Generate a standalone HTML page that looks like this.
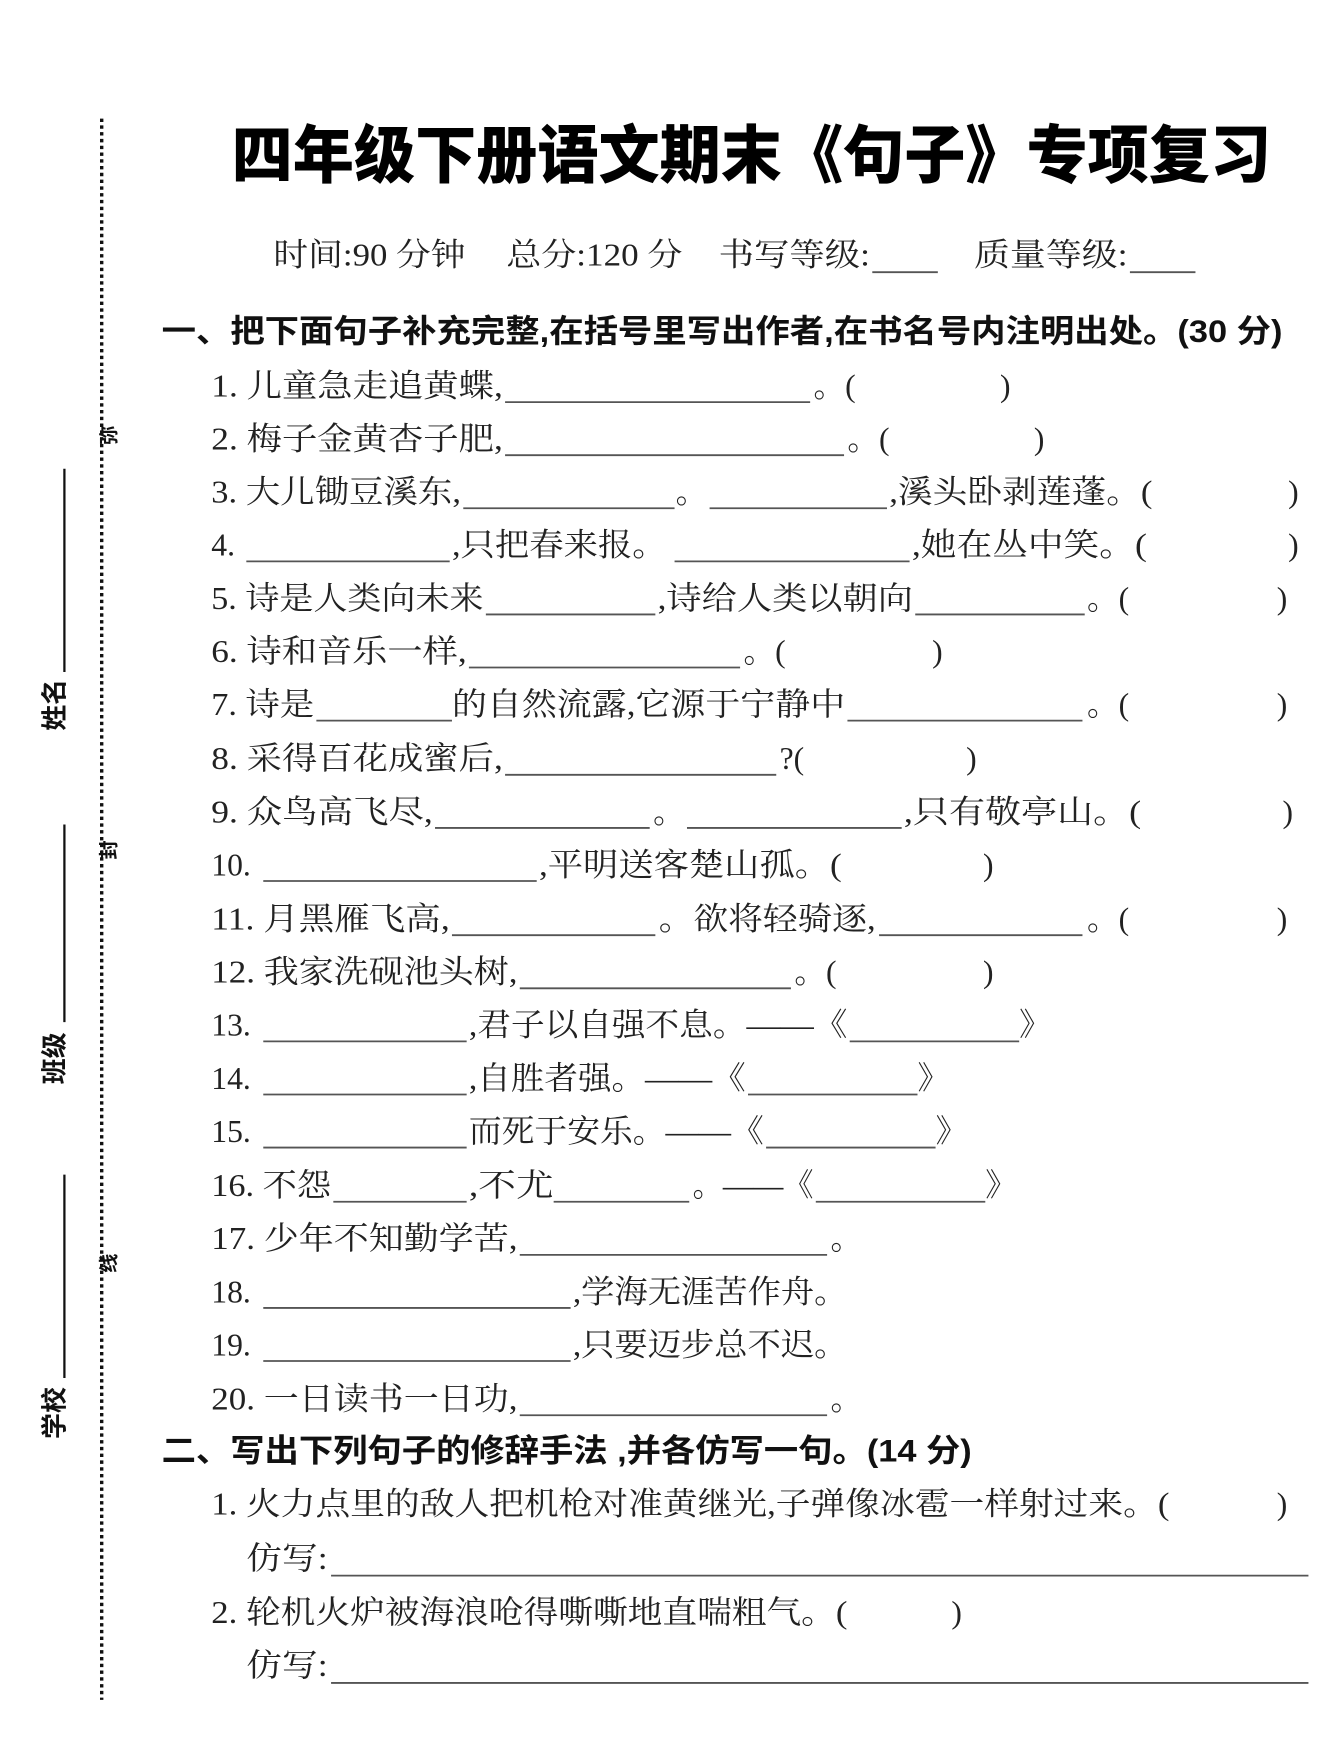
<!DOCTYPE html>
<html><head><meta charset="utf-8"><style>
html,body{margin:0;padding:0;background:#fff;}
svg{display:block}
.t{font-family:"Liberation Serif","Noto Serif CJK SC",serif;font-size:28px;fill:#222}
.h{font-family:"Liberation Sans","Noto Sans CJK SC",sans-serif;font-size:28px;font-weight:bold;fill:#111}
.ti{font-family:"Liberation Sans","Noto Sans CJK SC",sans-serif;font-size:56px;font-weight:900;fill:#000}
.m{font-family:"Liberation Sans","Noto Sans CJK SC",sans-serif;font-weight:bold;fill:#111}
line.u{stroke:#555;stroke-width:1.6}
</style></head><body>
<svg width="1322" height="1762" viewBox="0 0 1170 1560" preserveAspectRatio="none" xmlns="http://www.w3.org/2000/svg">
<line x1="90" y1="105" x2="90" y2="1505" stroke="#111" stroke-width="3" stroke-dasharray="3,3"/>
<line x1="57" y1="415" x2="57" y2="595" stroke="#111" stroke-width="2"/>
<line x1="57" y1="730" x2="57" y2="905" stroke="#111" stroke-width="2"/>
<line x1="57" y1="1040" x2="57" y2="1220" stroke="#111" stroke-width="2"/>
<text class="m" font-size="23" transform="translate(56,647) rotate(-90)">姓名</text>
<text class="m" font-size="23" transform="translate(56,960) rotate(-90)">班级</text>
<text class="m" font-size="23" transform="translate(56,1274) rotate(-90)">学校</text>
<text class="m" font-size="17" transform="translate(102,394) rotate(-90)">弥</text>
<text class="m" font-size="17" transform="translate(102,761) rotate(-90)">封</text>
<text class="m" font-size="17" transform="translate(102,1127) rotate(-90)">线</text>

<text class="ti" x="205" y="157" textLength="920" lengthAdjust="spacingAndGlyphs">四年级下册语文期末《句子》专项复习</text>

<text class="t" x="242" y="235" textLength="170" lengthAdjust="spacingAndGlyphs">时间:90 分钟</text>
<text class="t" x="448" y="235" textLength="156" lengthAdjust="spacingAndGlyphs">总分:120 分</text>
<text class="t" x="636" y="235" textLength="134" lengthAdjust="spacingAndGlyphs">书写等级:</text>
<line class="u" x1="772" y1="241" x2="830" y2="241"/>
<text class="t" x="862" y="235" textLength="136" lengthAdjust="spacingAndGlyphs">质量等级:</text>
<line class="u" x1="1000" y1="241" x2="1058" y2="241"/>

<text class="h" x="143" y="303" textLength="992" lengthAdjust="spacingAndGlyphs">一、把下面句子补充完整,在括号里写出作者,在书名号内注明出处。(30 分)</text>

<text class="t" x="187" y="351" textLength="258" lengthAdjust="spacingAndGlyphs">1. 儿童急走追黄蝶,</text>
<line class="u" x1="447" y1="356" x2="717" y2="356"/>
<text class="t" x="720" y="351">。(</text><text class="t" x="885" y="351">)</text>
<text class="t" x="187" y="398" textLength="258" lengthAdjust="spacingAndGlyphs">2. 梅子金黄杏子肥,</text>
<line class="u" x1="447" y1="403" x2="747" y2="403"/>
<text class="t" x="750" y="398">。(</text><text class="t" x="915" y="398">)</text>
<text class="t" x="187" y="445" textLength="221" lengthAdjust="spacingAndGlyphs">3. 大儿锄豆溪东,</text>
<line class="u" x1="410" y1="450" x2="597" y2="450"/>
<text class="t" x="598" y="445">。</text>
<line class="u" x1="628" y1="450" x2="785" y2="450"/>
<text class="t" x="787" y="445" textLength="233" lengthAdjust="spacingAndGlyphs">,溪头卧剥莲蓬。(</text><text class="t" x="1140" y="445">)</text>
<text class="t" x="187" y="492">4.</text>
<line class="u" x1="218" y1="497" x2="398" y2="497"/>
<text class="t" x="400" y="492" textLength="190" lengthAdjust="spacingAndGlyphs">,只把春来报。</text>
<line class="u" x1="597" y1="497" x2="805" y2="497"/>
<text class="t" x="807" y="492" textLength="208" lengthAdjust="spacingAndGlyphs">,她在丛中笑。(</text><text class="t" x="1140" y="492">)</text>
<text class="t" x="187" y="539" textLength="241" lengthAdjust="spacingAndGlyphs">5. 诗是人类向未来</text>
<line class="u" x1="430" y1="544" x2="580" y2="544"/>
<text class="t" x="582" y="539" textLength="226" lengthAdjust="spacingAndGlyphs">,诗给人类以朝向</text>
<line class="u" x1="810" y1="544" x2="960" y2="544"/>
<text class="t" x="962" y="539">。(</text><text class="t" x="1130" y="539">)</text>
<text class="t" x="187" y="586" textLength="226" lengthAdjust="spacingAndGlyphs">6. 诗和音乐一样,</text>
<line class="u" x1="415" y1="591" x2="655" y2="591"/>
<text class="t" x="658" y="586">。(</text><text class="t" x="825" y="586">)</text>
<text class="t" x="187" y="633" textLength="91" lengthAdjust="spacingAndGlyphs">7. 诗是</text>
<line class="u" x1="280" y1="638" x2="400" y2="638"/>
<text class="t" x="400" y="633" textLength="348" lengthAdjust="spacingAndGlyphs">的自然流露,它源于宁静中</text>
<line class="u" x1="750" y1="638" x2="958" y2="638"/>
<text class="t" x="962" y="633">。(</text><text class="t" x="1130" y="633">)</text>
<text class="t" x="187" y="681" textLength="258" lengthAdjust="spacingAndGlyphs">8. 采得百花成蜜后,</text>
<line class="u" x1="447" y1="686" x2="687" y2="686"/>
<text class="t" x="690" y="681">?(</text><text class="t" x="855" y="681">)</text>
<text class="t" x="187" y="728" textLength="196" lengthAdjust="spacingAndGlyphs">9. 众鸟高飞尽,</text>
<line class="u" x1="385" y1="733" x2="575" y2="733"/>
<text class="t" x="578" y="728">。</text>
<line class="u" x1="608" y1="733" x2="798" y2="733"/>
<text class="t" x="800" y="728" textLength="210" lengthAdjust="spacingAndGlyphs">,只有敬亭山。(</text><text class="t" x="1135" y="728">)</text>
<text class="t" x="187" y="775">10.</text>
<line class="u" x1="233" y1="780" x2="475" y2="780"/>
<text class="t" x="477" y="775" textLength="268" lengthAdjust="spacingAndGlyphs">,平明送客楚山孤。(</text><text class="t" x="870" y="775">)</text>
<text class="t" x="187" y="823" textLength="211" lengthAdjust="spacingAndGlyphs">11. 月黑雁飞高,</text>
<line class="u" x1="400" y1="828" x2="580" y2="828"/>
<text class="t" x="583" y="823" textLength="192" lengthAdjust="spacingAndGlyphs">。欲将轻骑逐,</text>
<line class="u" x1="778" y1="828" x2="958" y2="828"/>
<text class="t" x="962" y="823">。(</text><text class="t" x="1130" y="823">)</text>
<text class="t" x="187" y="870" textLength="271" lengthAdjust="spacingAndGlyphs">12. 我家洗砚池头树,</text>
<line class="u" x1="460" y1="875" x2="700" y2="875"/>
<text class="t" x="703" y="870">。(</text><text class="t" x="870" y="870">)</text>
<text class="t" x="187" y="917">13.</text>
<line class="u" x1="233" y1="922" x2="413" y2="922"/>
<text class="t" x="415" y="917" textLength="335" lengthAdjust="spacingAndGlyphs">,君子以自强不息。——《</text>
<line class="u" x1="752" y1="922" x2="902" y2="922"/>
<text class="t" x="902" y="917">》</text>
<text class="t" x="187" y="964">14.</text>
<line class="u" x1="233" y1="969" x2="413" y2="969"/>
<text class="t" x="415" y="964" textLength="245" lengthAdjust="spacingAndGlyphs">,自胜者强。——《</text>
<line class="u" x1="662" y1="969" x2="812" y2="969"/>
<text class="t" x="812" y="964">》</text>
<text class="t" x="187" y="1011">15.</text>
<line class="u" x1="233" y1="1016" x2="413" y2="1016"/>
<text class="t" x="415" y="1011" textLength="261" lengthAdjust="spacingAndGlyphs">而死于安乐。——《</text>
<line class="u" x1="678" y1="1016" x2="828" y2="1016"/>
<text class="t" x="828" y="1011">》</text>
<text class="t" x="187" y="1059" textLength="106" lengthAdjust="spacingAndGlyphs">16. 不怨</text>
<line class="u" x1="295" y1="1064" x2="413" y2="1064"/>
<text class="t" x="415" y="1059" textLength="75" lengthAdjust="spacingAndGlyphs">,不尤</text>
<line class="u" x1="490" y1="1064" x2="610" y2="1064"/>
<text class="t" x="613" y="1059" textLength="107" lengthAdjust="spacingAndGlyphs">。——《</text>
<line class="u" x1="722" y1="1064" x2="872" y2="1064"/>
<text class="t" x="872" y="1059">》</text>
<text class="t" x="187" y="1106" textLength="271" lengthAdjust="spacingAndGlyphs">17. 少年不知勤学苦,</text>
<line class="u" x1="460" y1="1111" x2="732" y2="1111"/>
<text class="t" x="735" y="1106">。</text>
<text class="t" x="187" y="1153">18.</text>
<line class="u" x1="233" y1="1158" x2="505" y2="1158"/>
<text class="t" x="507" y="1153" textLength="243" lengthAdjust="spacingAndGlyphs">,学海无涯苦作舟。</text>
<text class="t" x="187" y="1200">19.</text>
<line class="u" x1="233" y1="1205" x2="505" y2="1205"/>
<text class="t" x="507" y="1200" textLength="243" lengthAdjust="spacingAndGlyphs">,只要迈步总不迟。</text>
<text class="t" x="187" y="1248" textLength="271" lengthAdjust="spacingAndGlyphs">20. 一日读书一日功,</text>
<line class="u" x1="460" y1="1253" x2="732" y2="1253"/>
<text class="t" x="735" y="1248">。</text>

<text class="h" x="143" y="1294" textLength="717" lengthAdjust="spacingAndGlyphs">二、写出下列句子的修辞手法 ,并各仿写一句。(14 分)</text>
<text class="t" x="187" y="1341" textLength="848" lengthAdjust="spacingAndGlyphs">1. 火力点里的敌人把机枪对准黄继光,子弹像冰雹一样射过来。(</text>
<text class="t" x="1130" y="1341">)</text>
<text class="t" x="218" y="1389" textLength="72" lengthAdjust="spacingAndGlyphs">仿写:</text>
<line class="u" x1="293" y1="1395" x2="1158" y2="1395"/>
<text class="t" x="187" y="1437" textLength="563" lengthAdjust="spacingAndGlyphs">2. 轮机火炉被海浪呛得嘶嘶地直喘粗气。(</text>
<text class="t" x="842" y="1437">)</text>
<text class="t" x="218" y="1484" textLength="72" lengthAdjust="spacingAndGlyphs">仿写:</text>
<line class="u" x1="293" y1="1490" x2="1158" y2="1490"/>
</svg>
</body></html>
